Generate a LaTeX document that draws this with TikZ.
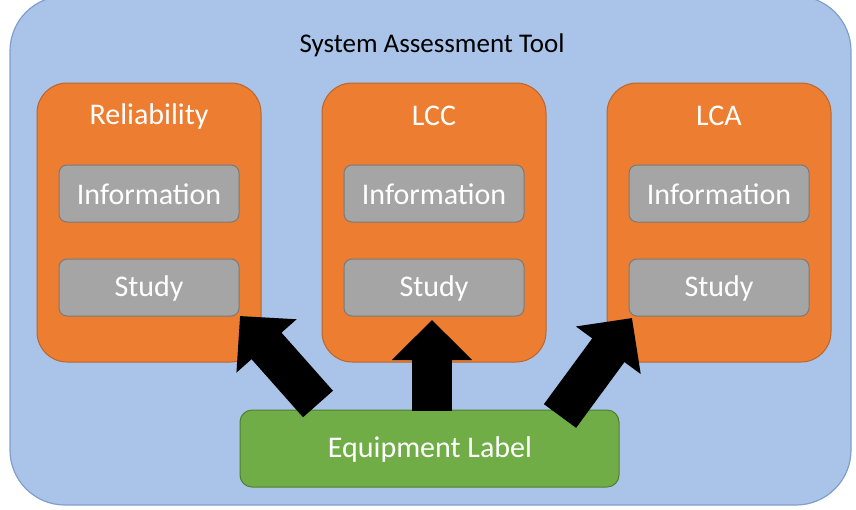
\documentclass[tikz,border=0pt]{standalone}
\usepackage{fontspec}
\setmainfont{Carlito}
\usetikzlibrary{arrows.meta}
\definecolor{bluefill}{HTML}{A9C4E8}
\definecolor{blueline}{HTML}{7F9FCC}
\definecolor{orfill}{HTML}{ED7D31}
\definecolor{orline}{HTML}{B8662E}
\definecolor{grfill}{HTML}{A5A5A5}
\definecolor{grline}{HTML}{7A7A7A}
\definecolor{gnfill}{HTML}{70AD47}
\definecolor{gnline}{HTML}{4E7F32}
\tikzset{
 outerbox/.style={draw=blueline,fill=bluefill,line width=1.2pt,rounded corners=55pt},
 orbox/.style={draw=orline,fill=orfill,line width=1pt,rounded corners=30pt},
 grbox/.style={draw=grline,fill=grfill,line width=1pt,rounded corners=8pt},
 gnbox/.style={draw=gnline,fill=gnfill,line width=1pt,rounded corners=12pt},
 wtxt/.style={text=white,font=\fontsize{30}{34}\selectfont},
 fat/.style={line width=40pt,-{Triangle[length=40pt,width=78pt]}}
}
\begin{document}
\begin{tikzpicture}[x=1pt,y=-1pt]
\useasboundingbox (0,0) rectangle (856,509);
\draw[outerbox] (10,-4) rectangle (851,505);
\node[font=\fontsize{27}{30}\selectfont] (title) at (432,45) {System Assessment Tool};
\foreach \n/\x/\t in {rel/37/Reliability,lcc/322/LCC,lca/607/LCA}{
 \draw[orbox] (\x,83) rectangle ++(224,279);
 \node[wtxt] (\n-t) at (\x+112,116) {\t};
 \draw[grbox] (\x+22,165) rectangle ++(180,57);
 \node[wtxt] (\n-i) at (\x+112,194) {Information};
 \draw[grbox] (\x+22,259) rectangle ++(180,57);
 \node[wtxt] (\n-s) at (\x+112,288) {Study};
}
\draw[gnbox] (240,410) rectangle (619,487);
\node[wtxt] (eq) at (430,449) {Equipment Label};
\coordinate (t1) at (318,404); \coordinate (h1) at (240,316);
\coordinate (t2) at (432,411); \coordinate (h2) at (432,320);
\coordinate (t3) at (560,416); \coordinate (h3) at (632,318);
\draw[fat] (t1) -- (h1);
\draw[fat] (t2) -- (h2);
\draw[fat] (t3) -- (h3);
\end{tikzpicture}
\end{document}
